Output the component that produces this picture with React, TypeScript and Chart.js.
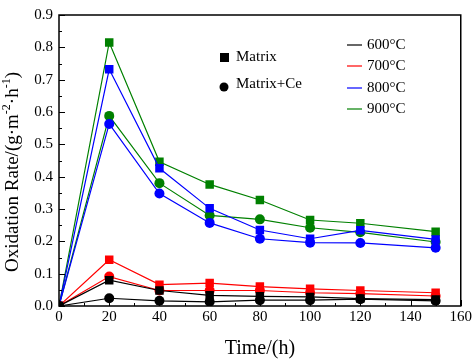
import React, { useEffect, useRef } from "react";
import { Chart, registerables } from "chart.js";
Chart.register(...registerables);

const timeH = [0, 20, 40, 60, 80, 100, 120, 150];
const matrix600 = [0, 0.08, 0.048, 0.033, 0.03, 0.028, 0.023, 0.02];
const ce600 = [0, 0.024, 0.016, 0.013, 0.018, 0.018, 0.021, 0.016];
const matrix700 = [0, 0.143, 0.066, 0.071, 0.06, 0.053, 0.048, 0.041];
const ce700 = [0, 0.091, 0.048, 0.048, 0.048, 0.041, 0.038, 0.031];
const matrix800 = [0, 0.732, 0.426, 0.302, 0.235, 0.208, 0.234, 0.206];
const ce800 = [0, 0.563, 0.348, 0.257, 0.208, 0.196, 0.195, 0.18];
const matrix900 = [0, 0.815, 0.446, 0.376, 0.328, 0.266, 0.256, 0.23];
const ce900 = [0, 0.588, 0.38, 0.28, 0.268, 0.242, 0.228, 0.198];

const tempLabels = ["600°C", "700°C", "800°C", "900°C"];
const tempColors = ["#000000", "#ff0000", "#0000ff", "#008000"];
const sampleLabels = ["Matrix", "Matrix+Ce"];
const xTitle = "Time/(h)";
// y title pieces: [text, isSuperscript]
const yTitleParts: [string, boolean][] = [
  ["Oxidation Rate/(g·m", false],
  ["-2", true],
  ["·h", false],
  ["-1", true],
  [")", false],
];

const FONT = "'Liberation Serif', 'Times New Roman', serif";

const pts = (ys: number[]) => ys.map((y, i) => ({ x: timeH[i], y }));

const series = [
  { data: matrix600, color: 0, shape: "rect" },
  { data: ce600, color: 0, shape: "circle" },
  { data: matrix700, color: 1, shape: "rect" },
  { data: ce700, color: 1, shape: "circle" },
  { data: matrix800, color: 2, shape: "rect" },
  { data: ce800, color: 2, shape: "circle" },
  { data: matrix900, color: 3, shape: "rect" },
  { data: ce900, color: 3, shape: "circle" },
];

const framePlugin = {
  id: "frame",
  afterDraw(chart: any) {
    const { ctx, chartArea: a, scales } = chart;
    const xs = scales.x;
    const ys = scales.y;
    ctx.save();
    ctx.strokeStyle = "#000";
    ctx.lineWidth = 1;
    for (let v = 0; v <= 160; v += 10) {
      const px = Math.round(xs.getPixelForValue(v)) + 0.5;
      const len = v % 20 === 0 ? 6 : 3;
      ctx.beginPath();
      ctx.moveTo(px, a.bottom);
      ctx.lineTo(px, a.bottom - len);
      ctx.stroke();
    }
    for (let i = 0; i <= 18; i++) {
      const v = i * 0.05;
      const py = Math.round(ys.getPixelForValue(v)) + 0.5;
      const len = i % 2 === 0 ? 6 : 3;
      ctx.beginPath();
      ctx.moveTo(a.left, py);
      ctx.lineTo(a.left + len, py);
      ctx.stroke();
    }
    ctx.lineWidth = 1.5;
    ctx.strokeRect(a.left, a.top, a.right - a.left, a.bottom - a.top);

    // y title (rotated, with superscripts)
    const mainFont = `19px ${FONT}`;
    const supFont = `12px ${FONT}`;
    let total = 0;
    const widths = yTitleParts.map(([t, sup]) => {
      ctx.font = sup ? supFont : mainFont;
      const w = ctx.measureText(t).width;
      total += w;
      return w;
    });
    ctx.save();
    ctx.translate(13, 172);
    ctx.rotate(-Math.PI / 2);
    ctx.fillStyle = "#000";
    ctx.textBaseline = "middle";
    ctx.textAlign = "left";
    let cx = -total / 2;
    yTitleParts.forEach(([t, sup], i) => {
      ctx.font = sup ? supFont : mainFont;
      ctx.fillText(t, cx, sup ? -6 : 0);
      cx += widths[i];
    });
    ctx.restore();

    // legends
    ctx.font = `15px ${FONT}`;
    ctx.textBaseline = "middle";
    ctx.textAlign = "left";
    ctx.fillStyle = "#000";
    ctx.fillRect(220, 53, 9, 9);
    ctx.fillText(sampleLabels[0], 236, 57);
    ctx.beginPath();
    ctx.arc(224, 87, 4.5, 0, Math.PI * 2);
    ctx.fill();
    ctx.fillText(sampleLabels[1], 236, 84);

    const ly = [45, 66, 88, 109];
    tempLabels.forEach((t, i) => {
      ctx.strokeStyle = tempColors[i];
      ctx.lineWidth = 1.2;
      ctx.beginPath();
      ctx.moveTo(347, ly[i]);
      ctx.lineTo(362, ly[i]);
      ctx.stroke();
      ctx.fillStyle = "#000";
      ctx.fillText(t, 367, ly[i]);
    });
    ctx.restore();
  },
};

export default function App() {
  const ref = useRef<HTMLCanvasElement>(null);
  useEffect(() => {
    document.body.style.margin = "0";
    const chart = new Chart(ref.current!, {
      type: "line",
      data: {
        datasets: series.map((s, i) => ({
          label: sampleLabels[i % 2] + " " + tempLabels[s.color],
          data: pts(s.data),
          borderColor: tempColors[s.color],
          backgroundColor: tempColors[s.color],
          borderWidth: 1.2,
          pointStyle: s.shape as any,
          pointRadius: s.shape === "rect" ? 6 : 5,
          pointBorderWidth: 0,
          tension: 0,
        })),
      },
      options: {
        animation: false,
        responsive: true,
        maintainAspectRatio: false,
        layout: { padding: { top: 6, right: 11, left: 0, bottom: 0 } },
        plugins: { legend: { display: false }, tooltip: { enabled: false } },
        scales: {
          x: {
            type: "linear",
            min: 0,
            max: 160,
            grid: { display: false, drawTicks: false },
            border: { display: false },
            ticks: {
              stepSize: 20,
              padding: 2,
              color: "#000",
              font: { family: FONT, size: 15 },
            },
            title: {
              display: true,
              text: xTitle,
              color: "#000",
              font: { family: FONT, size: 20, lineHeight: 1 },
              padding: { top: 0, bottom: 0 },
            },
            afterFit: (s: any) => {
              s.height = 53;
            },
          },
          y: {
            type: "linear",
            min: 0,
            max: 0.9,
            grid: { display: false, drawTicks: false },
            border: { display: false },
            ticks: {
              stepSize: 0.1,
              padding: 6,
              color: "#000",
              font: { family: FONT, size: 15 },
              callback: (v: any) => Number(v).toFixed(1),
            },
            title: { display: false },
            afterFit: (s: any) => {
              s.width = 59;
            },
          },
        },
      },
      plugins: [framePlugin],
    });
    return () => chart.destroy();
  }, []);
  return (
    <div style={{ position: "fixed", left: 0, top: 0, width: 474, height: 359, background: "#fff" }}>
      <canvas ref={ref} />
    </div>
  );
}
